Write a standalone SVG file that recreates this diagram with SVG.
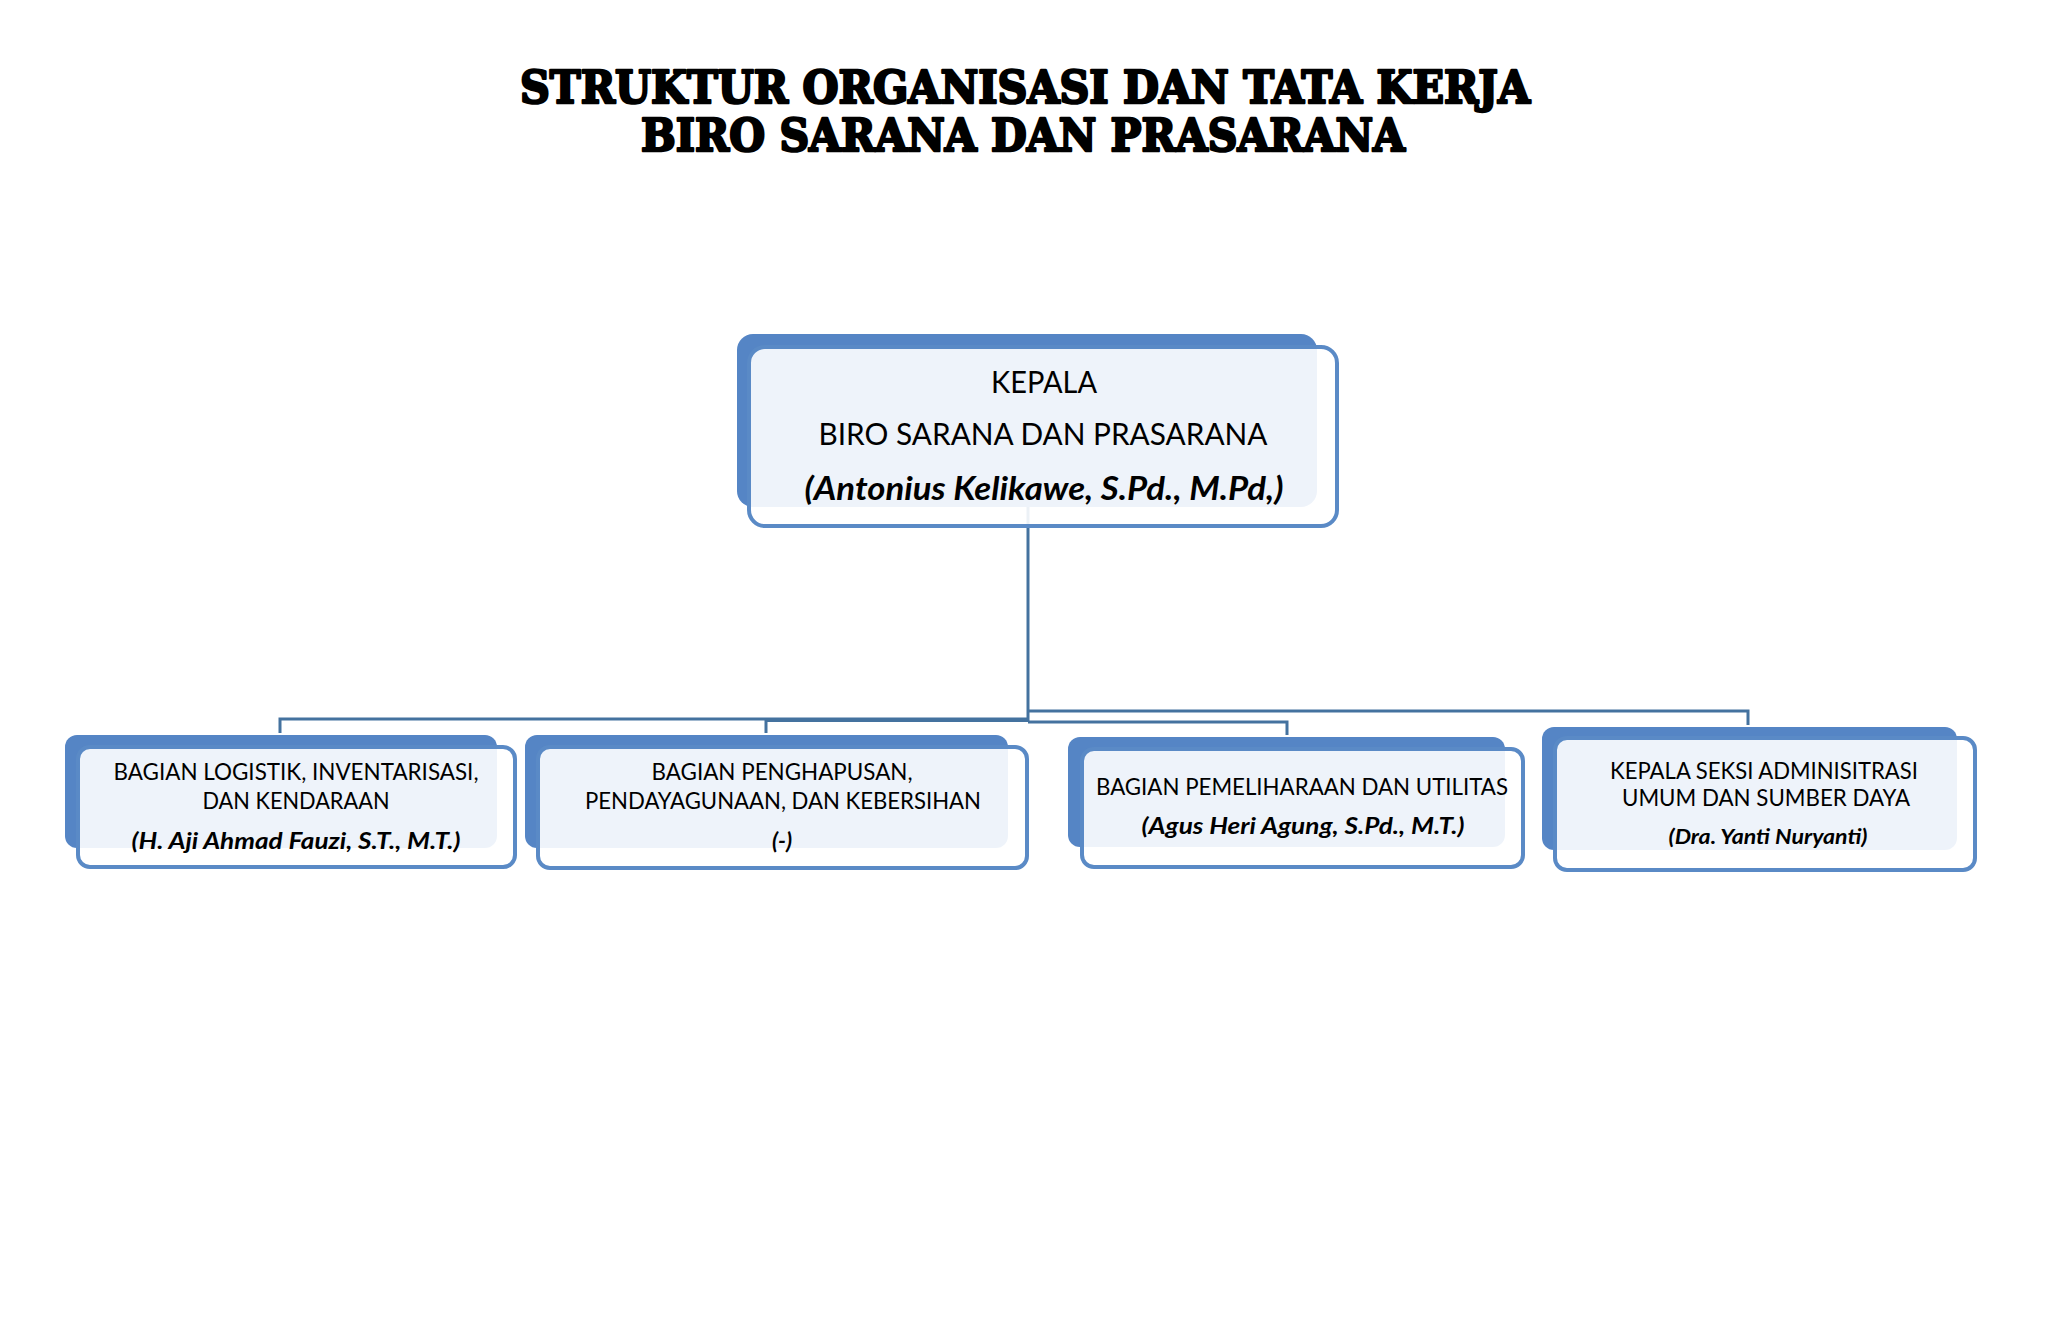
<svg xmlns="http://www.w3.org/2000/svg" width="2048" height="1339" viewBox="0 0 2048 1339">
<style>
.back{fill:#5585C5}
.front{fill:#fff;fill-opacity:0.9;stroke:#5A8AC6;stroke-width:4}
.conn{fill:none;stroke:#44729F;stroke-width:3}
.t{font-family:Lato,"Open Sans",sans-serif;fill:#000;text-anchor:middle}
.n{font-family:Lato,"Open Sans",sans-serif;font-weight:bold;font-style:italic;fill:#000;text-anchor:middle}
.title{font-family:"DejaVu Serif","Liberation Serif",serif;font-weight:bold;font-size:45px;fill:#000;stroke:#000;stroke-width:2.5;stroke-linejoin:round;text-anchor:middle}
</style>
<rect width="2048" height="1339" fill="#fff"/>
<g id="title">
<text class="title" x="1025" y="103" textLength="1010" lengthAdjust="spacingAndGlyphs">STRUKTUR ORGANISASI DAN TATA KERJA</text>
<text class="title" x="1023" y="151" textLength="764" lengthAdjust="spacingAndGlyphs">BIRO SARANA DAN PRASARANA</text>
</g>
<g id="connectors">
<path class="conn" d="M1028 507 V721"/>
<path class="conn" d="M1028 711 H1748 V725"/>
<path class="conn" d="M1028 719 H280 V733"/>
<path class="conn" d="M1028 720.5 H766 V733"/>
<path class="conn" d="M1028 722 H1287 V735"/>
</g>
<g id="node-kepala">
<rect class="back" x="737" y="334" width="580" height="173" rx="16"/>
<rect class="front" x="749" y="347" width="588" height="179" rx="16"/>
<text class="t" x="1044" y="393" font-size="31" textLength="106" lengthAdjust="spacingAndGlyphs">KEPALA</text>
<text class="t" x="1043" y="445" font-size="31" textLength="449" lengthAdjust="spacingAndGlyphs">BIRO SARANA DAN PRASARANA</text>
<text class="n" x="1044" y="500" font-size="32" textLength="479" lengthAdjust="spacingAndGlyphs">(Antonius Kelikawe, S.Pd., M.Pd,)</text>
</g>
<g id="node-logistik">
<rect class="back" x="65" y="735" width="432" height="113" rx="12"/>
<rect class="front" x="78" y="747" width="437" height="120" rx="12"/>
<text class="t" x="296" y="780" font-size="23" textLength="365" lengthAdjust="spacingAndGlyphs">BAGIAN LOGISTIK, INVENTARISASI,</text>
<text class="t" x="296" y="809" font-size="23" textLength="187" lengthAdjust="spacingAndGlyphs">DAN KENDARAAN</text>
<text class="n" x="296" y="849" font-size="23" textLength="329" lengthAdjust="spacingAndGlyphs">(H. Aji Ahmad Fauzi, S.T., M.T.)</text>
</g>
<g id="node-penghapusan">
<rect class="back" x="525" y="735" width="483" height="113" rx="12"/>
<rect class="front" x="538" y="747" width="489" height="121" rx="12"/>
<text class="t" x="782" y="780" font-size="23" textLength="261" lengthAdjust="spacingAndGlyphs">BAGIAN PENGHAPUSAN,</text>
<text class="t" x="783" y="809" font-size="23" textLength="396" lengthAdjust="spacingAndGlyphs">PENDAYAGUNAAN, DAN KEBERSIHAN</text>
<text class="n" x="782" y="849" font-size="23">(-)</text>
</g>
<g id="node-pemeliharaan">
<rect class="back" x="1068" y="737" width="437" height="110" rx="12"/>
<rect class="front" x="1082" y="749" width="441" height="118" rx="12"/>
<text class="t" x="1302" y="795" font-size="23" textLength="412" lengthAdjust="spacingAndGlyphs">BAGIAN PEMELIHARAAN DAN UTILITAS</text>
<text class="n" x="1303" y="834" font-size="23" textLength="323" lengthAdjust="spacingAndGlyphs">(Agus Heri Agung, S.Pd., M.T.)</text>
</g>
<g id="node-administrasi">
<rect class="back" x="1542" y="727" width="415" height="123" rx="12"/>
<rect class="front" x="1555" y="738" width="420" height="132" rx="12"/>
<text class="t" x="1764" y="779" font-size="23" textLength="308" lengthAdjust="spacingAndGlyphs">KEPALA SEKSI ADMINISITRASI</text>
<text class="t" x="1766" y="806" font-size="23" textLength="288" lengthAdjust="spacingAndGlyphs">UMUM DAN SUMBER DAYA</text>
<text class="n" x="1768" y="844" font-size="20" textLength="199" lengthAdjust="spacingAndGlyphs">(Dra. Yanti Nuryanti)</text>
</g>
</svg>
